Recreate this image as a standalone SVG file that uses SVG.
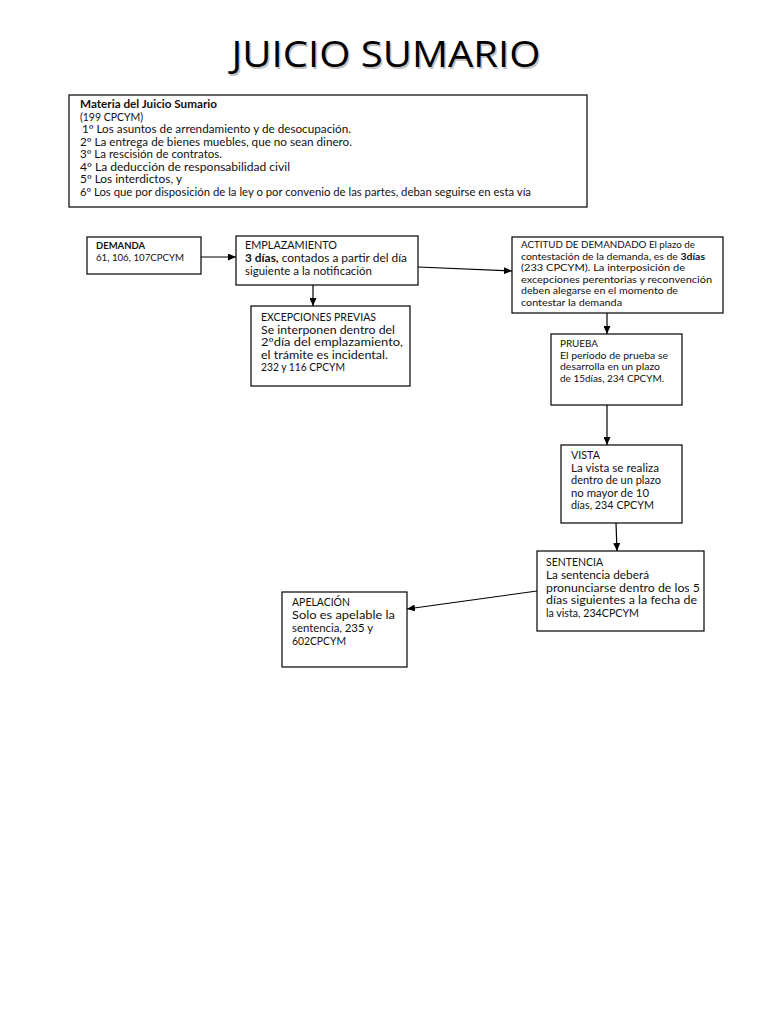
<svg xmlns="http://www.w3.org/2000/svg" width="768" height="1024" viewBox="0 0 768 1024">
<style>
  .box { fill: #ffffff; stroke: #000000; stroke-width: 1.2; }
  .t { font-family: Lato, "Open Sans", sans-serif; fill: #111111; }
  .s11 { font-size: 11px; }
  .s95 { font-size: 9.5px; }
  .s9 { font-size: 9px; }
  .b { font-weight: bold; }
  .title { font-family: "Open Sans", "Liberation Sans", sans-serif; font-size: 36px; }
  .conn { stroke: #000000; stroke-width: 1.2; fill: none; marker-end: url(#arrow); }
</style>
<defs>
  <marker id="arrow" markerUnits="userSpaceOnUse" markerWidth="8" markerHeight="7" refX="8" refY="3.5" orient="auto">
    <path d="M0,0 L8,3.5 L0,7 z" fill="#000000"/>
  </marker>
</defs>
<rect x="0" y="0" width="768" height="1024" fill="#ffffff"/>

<g id="title">
  <text class="title" x="387.5" y="68.5" text-anchor="middle" textLength="309" lengthAdjust="spacingAndGlyphs" fill="#9a9a9a" opacity="0.6">JUICIO SUMARIO</text>
  <text class="title" x="386" y="67" text-anchor="middle" textLength="309" lengthAdjust="spacingAndGlyphs" fill="#000000">JUICIO SUMARIO</text>
</g>

<g id="materia">
  <rect class="box" x="69" y="95" width="518" height="112"/>
  <text class="t s11 b" x="80" y="107.5" textLength="137" lengthAdjust="spacingAndGlyphs">Materia del Juicio Sumario</text>
  <text class="t s11" x="80" y="120.5" textLength="63" lengthAdjust="spacingAndGlyphs">(199 CPCYM)</text>
  <text class="t s11" x="82" y="133" textLength="269" lengthAdjust="spacingAndGlyphs">1º Los asuntos de arrendamiento y de desocupación.</text>
  <text class="t s11" x="80" y="145.5" textLength="272" lengthAdjust="spacingAndGlyphs">2º La entrega de bienes muebles, que no sean dinero.</text>
  <text class="t s11" x="80" y="158" textLength="142" lengthAdjust="spacingAndGlyphs">3º La rescisión de contratos.</text>
  <text class="t s11" x="80" y="170.5" textLength="210" lengthAdjust="spacingAndGlyphs">4º La deducción de responsabilidad civil</text>
  <text class="t s11" x="80" y="183" textLength="102" lengthAdjust="spacingAndGlyphs">5º Los interdictos, y</text>
  <text class="t s11" x="80" y="195.5" textLength="451" lengthAdjust="spacingAndGlyphs">6º Los que por disposición de la ley o por convenio de las partes, deban seguirse en esta vía</text>
</g>

<g id="demanda">
  <rect class="box" x="87" y="237" width="114" height="37"/>
  <text class="t s95 b" x="96" y="249" textLength="49" lengthAdjust="spacingAndGlyphs">DEMANDA</text>
  <text class="t s95" x="96" y="261" textLength="88" lengthAdjust="spacingAndGlyphs">61, 106, 107CPCYM</text>
</g>

<g id="emplazamiento">
  <rect class="box" x="236" y="236" width="182" height="49"/>
  <text class="t s11" x="245" y="249" textLength="92" lengthAdjust="spacingAndGlyphs">EMPLAZAMIENTO</text>
  <text class="t s11" x="245" y="262" textLength="162" lengthAdjust="spacingAndGlyphs"><tspan class="b">3 días,</tspan> contados a partir del día</text>
  <text class="t s11" x="245" y="275" textLength="127" lengthAdjust="spacingAndGlyphs">siguiente a la notificación</text>
</g>

<g id="excepciones">
  <rect class="box" x="251" y="306" width="159" height="80"/>
  <text class="t s11" x="261" y="321" textLength="115" lengthAdjust="spacingAndGlyphs">EXCEPCIONES PREVIAS</text>
  <text class="t s11" x="261" y="333.5" textLength="134" lengthAdjust="spacingAndGlyphs">Se interponen dentro del</text>
  <text class="t s11" x="261" y="346" textLength="142" lengthAdjust="spacingAndGlyphs">2ºdía del emplazamiento,</text>
  <text class="t s11" x="261" y="358.5" textLength="127" lengthAdjust="spacingAndGlyphs">el trámite es incidental.</text>
  <text class="t s11" x="261" y="371" textLength="84" lengthAdjust="spacingAndGlyphs">232 y 116 CPCYM</text>
</g>

<g id="actitud">
  <rect class="box" x="512" y="237" width="211" height="76"/>
  <text class="t s9" x="521" y="248" textLength="174" lengthAdjust="spacingAndGlyphs">ACTITUD DE DEMANDADO El plazo de</text>
  <text class="t s9" x="521" y="259.5" textLength="184" lengthAdjust="spacingAndGlyphs">contestación de la demanda, es de <tspan class="b">3días</tspan></text>
  <text class="t s9" x="521" y="271" textLength="164" lengthAdjust="spacingAndGlyphs">(233 CPCYM). La interposición de</text>
  <text class="t s9" x="521" y="282.5" textLength="191" lengthAdjust="spacingAndGlyphs">excepciones perentorias y reconvención</text>
  <text class="t s9" x="521" y="294" textLength="157" lengthAdjust="spacingAndGlyphs">deben alegarse en el momento de</text>
  <text class="t s9" x="521" y="305.5" textLength="101" lengthAdjust="spacingAndGlyphs">contestar la demanda</text>
</g>

<g id="prueba">
  <rect class="box" x="551" y="334" width="131" height="71"/>
  <text class="t s9" x="560" y="347" textLength="38" lengthAdjust="spacingAndGlyphs">PRUEBA</text>
  <text class="t s9" x="560" y="358.5" textLength="108" lengthAdjust="spacingAndGlyphs">El período de prueba se</text>
  <text class="t s9" x="560" y="370" textLength="100" lengthAdjust="spacingAndGlyphs">desarrolla en un plazo</text>
  <text class="t s9" x="560" y="381.5" textLength="104" lengthAdjust="spacingAndGlyphs">de 15días, 234 CPCYM.</text>
</g>

<g id="vista">
  <rect class="box" x="561" y="445" width="121" height="78"/>
  <text class="t s11" x="571" y="459" textLength="29" lengthAdjust="spacingAndGlyphs">VISTA</text>
  <text class="t s11" x="571" y="471.5" textLength="88" lengthAdjust="spacingAndGlyphs">La vista se realiza</text>
  <text class="t s11" x="571" y="484" textLength="90" lengthAdjust="spacingAndGlyphs">dentro de un plazo</text>
  <text class="t s11" x="571" y="496.5" textLength="78" lengthAdjust="spacingAndGlyphs">no mayor de 10</text>
  <text class="t s11" x="571" y="509" textLength="83" lengthAdjust="spacingAndGlyphs">días, 234 CPCYM</text>
</g>

<g id="sentencia">
  <rect class="box" x="537" y="551" width="167" height="80"/>
  <text class="t s11" x="546" y="566" textLength="57" lengthAdjust="spacingAndGlyphs">SENTENCIA</text>
  <text class="t s11" x="546" y="578.5" textLength="103" lengthAdjust="spacingAndGlyphs">La sentencia deberá</text>
  <text class="t s11" x="546" y="591.5" textLength="154" lengthAdjust="spacingAndGlyphs">pronunciarse dentro de los 5</text>
  <text class="t s11" x="546" y="604" textLength="151" lengthAdjust="spacingAndGlyphs">días siguientes a la fecha de</text>
  <text class="t s11" x="546" y="617" textLength="93" lengthAdjust="spacingAndGlyphs">la vista, 234CPCYM</text>
</g>

<g id="apelacion">
  <rect class="box" x="282" y="592" width="125" height="75"/>
  <text class="t s11" x="292" y="606" textLength="58" lengthAdjust="spacingAndGlyphs">APELACIÓN</text>
  <text class="t s11" x="292" y="619" textLength="103" lengthAdjust="spacingAndGlyphs">Solo es apelable la</text>
  <text class="t s11" x="292" y="632" textLength="81" lengthAdjust="spacingAndGlyphs">sentencia, 235 y</text>
  <text class="t s11" x="292" y="645" textLength="54" lengthAdjust="spacingAndGlyphs">602CPCYM</text>
</g>

<g id="connectors">
  <path class="conn" d="M201,257 L236,257"/>
  <path class="conn" d="M418,267 L512,271"/>
  <path class="conn" d="M313,285 L313,306"/>
  <path class="conn" d="M607,313 L607,334"/>
  <path class="conn" d="M607,405 L607,445"/>
  <path class="conn" d="M616,523 L617,551"/>
  <path class="conn" d="M537,591 L407,609"/>
</g>
</svg>
